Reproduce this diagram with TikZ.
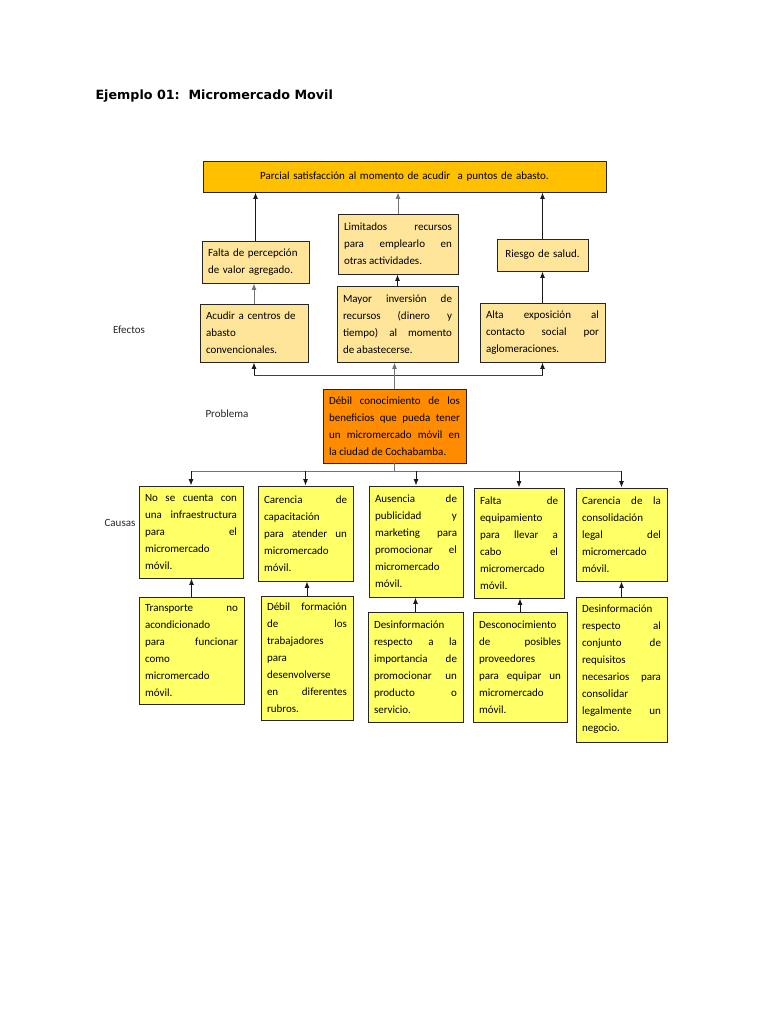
\documentclass[tikz,border=0pt]{standalone}
\usepackage{fontspec}
\setmainfont{Carlito}
\newfontfamily\titlefont{DejaVu Sans}
\usetikzlibrary{arrows.meta}
\definecolor{topfill}{HTML}{FFC000}
\definecolor{efffill}{HTML}{FFE599}
\definecolor{probfill}{HTML}{FF8C00}
\definecolor{causefill}{HTML}{FFFF66}
\tikzset{
  bx/.style={draw=black!85, line width=0.9pt, inner xsep=6pt, inner ysep=2pt,
    align=justify, font=\fontsize{11}{17}\selectfont},
  topbox/.style={bx, fill=topfill, align=center},
  effbox/.style={bx, fill=efffill},
  probbox/.style={bx, fill=probfill},
  causebox/.style={bx, fill=causefill},
  conn/.style={-{Latex[length=6.5pt,width=5pt]}, line width=0.9pt, draw=black!90},
  busline/.style={line width=0.9pt, draw=black!75},
  lbl/.style={font=\fontsize{11}{13}\selectfont, text=black!85},
}
\begin{document}
\begin{tikzpicture}[x=1pt,y=-1pt]
\useasboundingbox (0,0) rectangle (768,1024);
\fill[white] (0,0) rectangle (768,1024);
\hyphenpenalty=10000
\tolerance=10000

\node[anchor=west, font=\titlefont\bfseries\fontsize{12.7}{14}\selectfont] (title) at (92,96) {Ejemplo 01:\ \ Micromercado Movil};

\node[lbl] (efectos) at (129,330) {Efectos};
\node[lbl] (problema) at (227,414) {Problema};
\node[lbl] (causas) at (120,523) {Causas};

% effects
\node[topbox, text width=391pt, minimum height=31pt] (top) at (404.5,176.5) {Parcial satisfacción al momento de acudir\ \ a puntos de abasto.};
\node[effbox, align=left, text width=95pt, minimum height=42pt] (falta) at (255.5,262) {Falta de percepción\newline de valor agregado.};
\node[effbox, text width=108pt, minimum height=60pt] (limitados) at (398,244) {Limitados recursos\linebreak para emplearlo en\linebreak otras actividades.};
\node[effbox, align=center, text width=79pt, minimum height=32pt] (riesgo) at (542.5,255) {Riesgo de salud.};
\node[effbox, align=left, text width=96pt, minimum height=58pt] (acudir) at (254,333) {Acudir a centros de\newline abasto\newline convencionales.};
\node[effbox, text width=109pt, minimum height=76pt] (mayor) at (397.5,324) {Mayor inversión de\linebreak recursos (dinero y\linebreak tiempo) al momento\linebreak de abastecerse.};
\node[effbox, text width=113pt, minimum height=59pt] (alta) at (542.5,332.5) {Alta exposición al\linebreak contacto social por\linebreak aglomeraciones.};

% problem
\node[probbox, text width=131pt, minimum height=74pt] (problem) at (394.5,426) {Débil conocimiento de los\linebreak beneficios que pueda tener\linebreak un micromercado móvil en\linebreak la ciudad de Cochabamba.};

% causes
\node[causebox, text width=92pt, minimum height=92pt] (c1) at (191,532) {No se cuenta con\linebreak una infraestructura\linebreak para el\linebreak micromercado\newline móvil.};
\node[causebox, text width=83pt, minimum height=95pt] (c2) at (305.5,533.5) {Carencia de\linebreak capacitación\newline para atender un\linebreak micromercado\newline móvil.};
\node[causebox, text width=82pt, minimum height=111pt] (c3) at (416,541.5) {Ausencia de\linebreak publicidad y\linebreak marketing para\linebreak promocionar el\linebreak micromercado\newline móvil.};
\node[causebox, text width=78pt, minimum height=110pt] (c4) at (519,543) {Falta de\linebreak equipamiento\newline para llevar a\linebreak cabo el\linebreak micromercado\newline móvil.};
\node[causebox, text width=79pt, minimum height=93pt] (c5) at (621.5,534.5) {Carencia de la\linebreak consolidación\newline legal del\linebreak micromercado\newline móvil.};

\node[causebox, text width=93pt, minimum height=107pt] (d1) at (191.5,650.5) {Transporte no\linebreak acondicionado\newline para funcionar\linebreak como\newline micromercado\newline móvil.};
\node[causebox, text width=80pt, minimum height=124pt] (d2) at (307,658) {Débil formación\linebreak de los\linebreak trabajadores\newline para\newline desenvolverse\newline en diferentes\linebreak rubros.};
\node[causebox, text width=83pt, minimum height=110pt] (d3) at (415.5,667) {Desinformación\newline respecto a la\linebreak importancia de\linebreak promocionar un\linebreak producto o\linebreak servicio.};
\node[causebox, text width=82pt, minimum height=110pt] (d4) at (520,667) {Desconocimiento\newline de posibles\linebreak proveedores\newline para equipar un\linebreak micromercado\newline móvil.};
\node[causebox, text width=79pt, minimum height=145pt] (d5) at (621.5,669.5) {Desinformación\newline respecto al\linebreak conjunto de\linebreak requisitos\newline necesarios para\linebreak consolidar\newline legalmente un\linebreak negocio.};

% effect connectors
\draw[conn] (falta.north) -- (falta.north |- top.south);
\draw[conn, draw=black!55] (limitados.north) -- (limitados.north |- top.south);
\draw[conn] (riesgo.north) -- (riesgo.north |- top.south);
\draw[conn, draw=black!55] (acudir.north) -- (acudir.north |- falta.south);
\draw[conn] (mayor.north) -- (mayor.north |- limitados.south);
\draw[conn] (alta.north) -- (alta.north |- riesgo.south);

\coordinate (ebus) at (394,375);
\draw[busline] (acudir.south |- ebus) -- (alta.south |- ebus);
\draw[conn, draw=black!55] (problem.north) -- (problem.north |- mayor.south);
\draw[conn] (acudir.south |- ebus) -- (acudir.south);
\draw[conn] (alta.south |- ebus) -- (alta.south);

% cause connectors
\coordinate (cbus) at (394,471);
\draw[busline, draw=black!55] (problem.south) -- (problem.south |- cbus);
\draw[busline, draw=black!55] (c1.north |- cbus) -- (c5.north |- cbus);
\foreach \n in {c1,c2,c3,c4,c5}{
  \draw[conn] (\n.north |- cbus) -- (\n.north);
}
\draw[conn] (d1.north) -- (d1.north |- c1.south);
\draw[conn] (d2.north) -- (d2.north |- c2.south);
\draw[conn] (d3.north) -- (d3.north |- c3.south);
\draw[conn] (d4.north) -- (d4.north |- c4.south);
\draw[conn] (d5.north) -- (d5.north |- c5.south);
\end{tikzpicture}
\end{document}
